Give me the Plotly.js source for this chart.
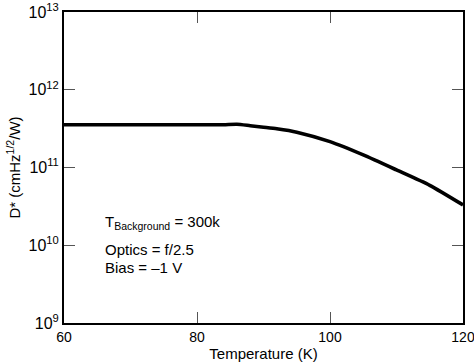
<!DOCTYPE html>
<html>
<head>
<meta charset="utf-8">
<script src="https://cdn.plot.ly/plotly-3.0.1.min.js"></script>
<style>html,body{margin:0;padding:0;background:#fff;}#chart{width:474px;height:364px;}</style>
</head>
<body>
<div id="chart"></div>
<script>
var temperature = [60, 70, 80, 84, 86, 88, 90, 92, 95, 100, 105, 110, 115, 120];
var detectivity = [3.55e11, 3.55e11, 3.55e11, 3.55e11, 3.6e11, 3.45e11, 3.3e11, 3.15e11, 2.85e11, 2.15e11, 1.45e11, 9.3e10, 5.9e10, 3.3e10];
var yTickVals = [1e9, 1e10, 1e11, 1e12, 1e13];
var yTickText = ["10<sup>9</sup>", "10<sup>10</sup>", "10<sup>11</sup>", "10<sup>12</sup>", "10<sup>13</sup>"];
var xTickVals = [60, 80, 100, 120];
var notes = ["T<sub>Background</sub> = 300k", "Optics = f/2.5", "Bias = \u20131 V"];
var noteY = [10.29, 9.94, 9.71];

var fam = "Liberation Sans, Arial, sans-serif";

var trace = {
  x: temperature, y: detectivity, type: "scatter", mode: "lines",
  line: {color: "#000", width: 3.6, shape: "spline", smoothing: 0.6},
  hoverinfo: "skip"
};

var annotations = notes.map(function (t, i) {
  return {x: 65.9, y: noteY[i], xref: "x", yref: "y", text: t, showarrow: false,
          xanchor: "left", yanchor: "middle", font: {family: fam, size: 15, color: "#000"}};
});

var layout = {
  width: 474, height: 364,
  margin: {l: 64, r: 11, t: 12, b: 41, pad: 0},
  paper_bgcolor: "#fff", plot_bgcolor: "#fff",
  font: {family: fam, size: 14, color: "#000"}, showlegend: false,
  xaxis: {
    range: [60, 120], tickmode: "array", tickvals: xTickVals,
    ticks: "inside", ticklen: 11, tickwidth: 1, tickcolor: "#555",
    showline: true, linecolor: "#000", linewidth: 2, mirror: "ticks",
    showgrid: false, zeroline: false, ticklabeloverflow: "allow",
    tickfont: {family: fam, size: 14, color: "#000"},
    title: {text: "Temperature (K)", font: {family: fam, size: 15, color: "#000"}, standoff: 5}
  },
  yaxis: {
    type: "log", range: [9, 13], tickmode: "array", tickvals: yTickVals, ticktext: yTickText,
    ticks: "inside", ticklen: 11, tickwidth: 1, tickcolor: "#555",
    showline: true, linecolor: "#000", linewidth: 2, mirror: "ticks",
    showgrid: false, zeroline: false, ticklabeloverflow: "allow",
    tickfont: {family: fam, size: 16, color: "#000"},
    title: {text: "D* (cmHz<sup>1/2</sup>/W)", font: {family: fam, size: 15, color: "#000"}, standoff: 4}
  },
  annotations: annotations
};

Plotly.newPlot("chart", [trace], layout, {displayModeBar: false, staticPlot: true});
</script>
</body>
</html>
